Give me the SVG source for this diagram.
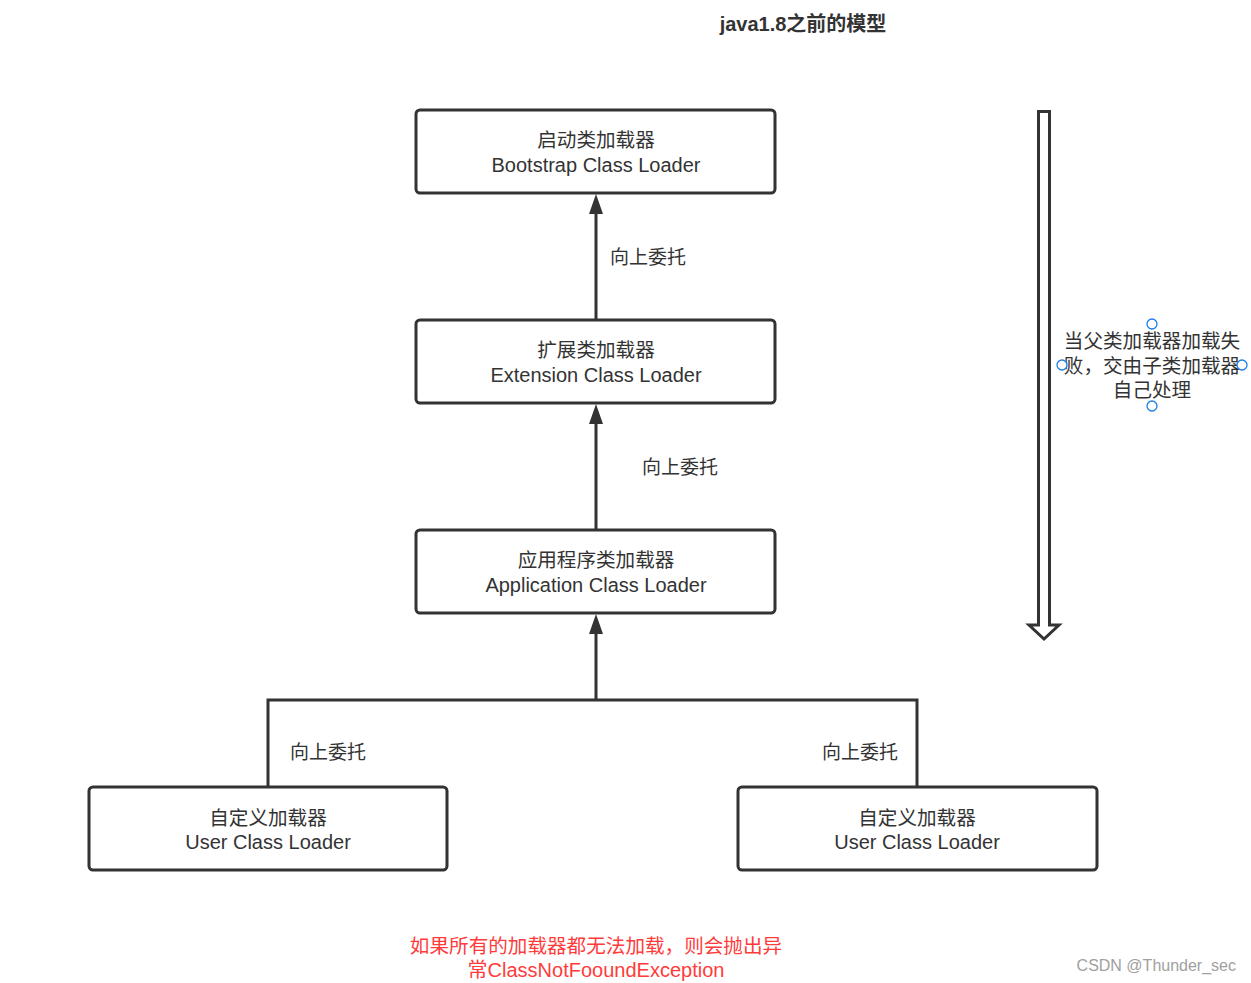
<svg xmlns="http://www.w3.org/2000/svg" width="1251" height="983" viewBox="0 0 1251 983">
<style>
.box{fill:#fff;stroke:#333;stroke-width:3}
.t{font-family:"Liberation Sans","Noto Sans CJK SC",sans-serif;font-size:20px;fill:#333;text-anchor:middle}
.c{font-size:19.6px}
.lbl{font-family:"Liberation Sans","Noto Sans CJK SC",sans-serif;font-size:19px;fill:#333}
.ln{fill:none;stroke:#333;stroke-width:3}
.h{fill:#fff;stroke:#1a7fe6;stroke-width:1.3}
</style>
<rect width="1251" height="983" fill="#fff"/>
<text x="803" y="31" font-family="Liberation Sans,'Noto Sans CJK SC',sans-serif" font-size="20" font-weight="bold" fill="#333" text-anchor="middle">java1.8之前的模型</text>

<g id="connectors">
<path class="ln" d="M596,320 L596,214"/>
<path d="M589,214 L596,194 L603,214 Z" fill="#333"/>
<path class="ln" d="M596,530 L596,424"/>
<path d="M589,424 L596,404 L603,424 Z" fill="#333"/>
<path class="ln" d="M268,787 L268,700 L917,700 L917,787"/>
<path class="ln" d="M596,700 L596,634"/>
<path d="M589,634 L596,614 L603,634 Z" fill="#333"/>
<text class="lbl" x="610" y="264">向上委托</text>
<text class="lbl" x="642" y="474">向上委托</text>
<text class="lbl" x="290" y="759">向上委托</text>
<text class="lbl" x="822" y="759">向上委托</text>
</g>

<g id="bootstrap">
<rect class="box" x="416" y="110" width="359" height="83" rx="4"/>
<text class="t c" x="596" y="147">启动类加载器</text>
<text class="t" x="596" y="172">Bootstrap Class Loader</text>
</g>
<g id="extension">
<rect class="box" x="416" y="320" width="359" height="83" rx="4"/>
<text class="t c" x="596" y="357">扩展类加载器</text>
<text class="t" x="596" y="382">Extension Class Loader</text>
</g>
<g id="application">
<rect class="box" x="416" y="530" width="359" height="83" rx="4"/>
<text class="t c" x="596" y="567">应用程序类加载器</text>
<text class="t" x="596" y="592">Application Class Loader</text>
</g>
<g id="user1">
<rect class="box" x="89" y="787" width="358" height="83" rx="4"/>
<text class="t c" x="268" y="825">自定义加载器</text>
<text class="t" x="268" y="849">User Class Loader</text>
</g>
<g id="user2">
<rect class="box" x="738" y="787" width="359" height="83" rx="4"/>
<text class="t c" x="917" y="825">自定义加载器</text>
<text class="t" x="917" y="849">User Class Loader</text>
</g>

<g id="bigarrow">
<path d="M1038.5,111.5 L1049.5,111.5 L1049.5,625 L1059,625 L1044,639 L1029,625 L1038.5,625 Z" fill="#fff" stroke="#333" stroke-width="3" stroke-linejoin="miter"/>
</g>

<g id="note">
<text class="t c" x="1152" y="348">当父类加载器加载失</text>
<text class="t c" x="1152" y="373">败，交由子类加载器</text>
<text class="t c" x="1152" y="397">自己处理</text>
<circle class="h" cx="1152" cy="324" r="5"/>
<circle class="h" cx="1062" cy="365" r="5"/>
<circle class="h" cx="1242" cy="365" r="5"/>
<circle class="h" cx="1152" cy="406" r="5"/>
</g>

<g id="error">
<text class="t c" x="596" y="953" style="fill:#ff3b3b">如果所有的加载器都无法加载，则会抛出异</text>
<text class="t" x="596" y="977" style="fill:#ff3b3b">常ClassNotFooundException</text>
</g>

<text x="1236" y="971" font-family="Liberation Sans,sans-serif" font-size="16" fill="#a0a0a0" text-anchor="end">CSDN @Thunder_sec</text>
</svg>
